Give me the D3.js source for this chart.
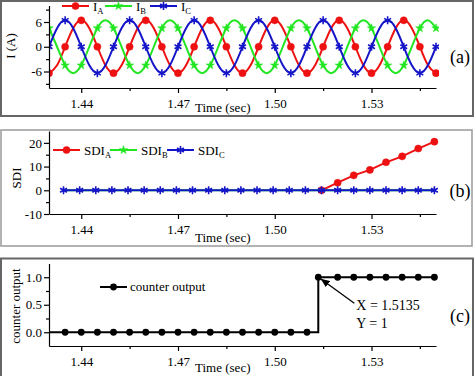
<!DOCTYPE html>
<html>
<head>
<meta charset="utf-8">
<script src="https://cdn.jsdelivr.net/npm/d3@7"></script>
<style>
  body { margin: 0; background: #fff; }
  svg { display: block; font-family: "Liberation Serif", "Times New Roman", serif; }
</style>
</head>
<body>
<div id="d3-container"></div>
<script>
/**
 * CONSTANTS AND DATA
 * */
const width = 474,
  height = 376;

// panel (a) : phase currents, read every 2.5 ms from 1.430 to 1.550 s
const currentTime = d3.range(49).map(i => 1.43 + i * 0.0025);
const iA = [
  -6.4, -4.5, 0, 4.5, 6.4, 4.5, 0, -4.5,
  -6.4, -4.5, 0, 4.5, 6.4, 4.5, 0, -4.5,
  -6.4, -4.5, 0, 4.5, 6.4, 4.5, 0, -4.5,
  -6.4, -4.5, 0, 4.5, 6.4, 4.5, 0, -4.5,
  -6.4, -4.5, 0, 4.5, 6.4, 4.5, 0, -4.5,
  -6.4, -4.5, 0, 4.5, 6.4, 4.5, 0, -4.5,
  -6.4];
const iB = [
  4.5, 0, -4.5, -6.4, -4.5, 0, 4.5, 6.4,
  4.5, 0, -4.5, -6.4, -4.5, 0, 4.5, 6.4,
  4.5, 0, -4.5, -6.4, -4.5, 0, 4.5, 6.4,
  4.5, 0, -4.5, -6.4, -4.5, 0, 4.5, 6.4,
  4.5, 0, -4.5, -6.4, -4.5, 0, 4.5, 6.4,
  4.5, 0, -4.5, -6.4, -4.5, 0, 4.5, 6.4,
  4.5];
const iC = [
  0, 4.5, 6.4, 4.5, 0, -4.5, -6.4, -4.5,
  0, 4.5, 6.4, 4.5, 0, -4.5, -6.4, -4.5,
  0, 4.5, 6.4, 4.5, 0, -4.5, -6.4, -4.5,
  0, 4.5, 6.4, 4.5, 0, -4.5, -6.4, -4.5,
  0, 4.5, 6.4, 4.5, 0, -4.5, -6.4, -4.5,
  0, 4.5, 6.4, 4.5, 0, -4.5, -6.4, -4.5,
  0];

// panel (b) : SDI
const sdiTime = [1.4345, 1.4395, 1.4445, 1.4495, 1.4545, 1.4595, 1.4645, 1.4695,
  1.4745, 1.4795, 1.4845, 1.4895, 1.4945, 1.4995, 1.5045, 1.5095,
  1.5145, 1.5195, 1.5245, 1.5295, 1.5345, 1.5395, 1.5445, 1.5495];
const sdiATime = [1.5145, 1.5195, 1.5245, 1.5295, 1.5345, 1.5395, 1.5445, 1.5495];
const sdiA = [0, 3.2, 6.3, 8.6, 11.8, 14.3, 17.6, 20.5];
const sdiB = [0, 0, 0, 0, 0, 0, 0, 0, 0, 0, 0, 0, 0, 0, 0, 0, 0, 0, 0, 0, 0, 0, 0, 0];
const sdiC = [0, 0, 0, 0, 0, 0, 0, 0, 0, 0, 0, 0, 0, 0, 0, 0, 0, 0, 0, 0, 0, 0, 0, 0];

// panel (c) : counter output
const counterTime = [1.435, 1.44, 1.445, 1.45, 1.455, 1.46, 1.465, 1.47,
  1.475, 1.48, 1.485, 1.49, 1.495, 1.5, 1.505, 1.51,
  1.5135, 1.5195, 1.5245, 1.5295, 1.5345, 1.5395, 1.5445, 1.5495];
const counterValue = [0, 0, 0, 0, 0, 0, 0, 0, 0, 0, 0, 0, 0, 0, 0, 0,
  1, 1, 1, 1, 1, 1, 1, 1];
const hit = { t: 1.5135, v: 1 };

// axis ticks
const xMajor = [1.44, 1.47, 1.50, 1.53];
const xMinor = [1.455, 1.485, 1.515, 1.545];

const RED = "#ee1111", GREEN = "#22e622", BLUE = "#1414c8";

/**
 * SCALES
 * */
const x = d3.scaleLinear().domain([1.43, 1.55]).range([49, 436]);
const yA = d3.scaleLinear().domain([-10, 10]).range([88, 5.5]);
const yB = d3.scaleLinear().domain([-10, 25]).range([214, 131]);
const yC = d3.scaleLinear().domain([-0.25, 1.25]).range([346, 263.5]);

const svg = d3.select("#d3-container")
  .append("svg")
  .attr("width", width)
  .attr("height", height);

svg.append("defs").append("marker")
  .attr("id", "head")
  .attr("viewBox", "0 0 10 10")
  .attr("refX", 9).attr("refY", 5)
  .attr("markerWidth", 7).attr("markerHeight", 7)
  .attr("orient", "auto")
  .append("path").attr("d", "M0,1 L10,5 L0,9 z").attr("fill", "#000");

// panel frames
svg.append("rect").attr("x", 1).attr("y", 1).attr("width", 472).attr("height", 115)
  .attr("fill", "none").attr("stroke", "#666").attr("stroke-width", 2);
svg.append("rect").attr("x", 1).attr("y", 130).attr("width", 471).attr("height", 116)
  .attr("fill", "none").attr("stroke", "#9a9a9a").attr("stroke-width", 1.5);
svg.append("rect").attr("x", 1).attr("y", 258.5).attr("width", 472).attr("height", 130)
  .attr("fill", "none").attr("stroke", "#666").attr("stroke-width", 2);

/**
 * HELPERS
 * */
function styleAxis(g) {
  g.attr("font-family", "Liberation Serif, serif").attr("font-size", 13);
  g.selectAll("path, line").attr("stroke", "#000").attr("stroke-width", 1.2);
  g.selectAll("text").attr("fill", "#000");
}

function drawAxes(y, yMajor, yMinor, yFmt) {
  const bottom = y.range()[0];
  svg.append("g").attr("transform", `translate(0,${bottom})`)
    .call(d3.axisBottom(x).tickValues(xMinor).tickSize(3).tickFormat(""))
    .call(g => g.select(".domain").remove())
    .call(styleAxis);
  svg.append("g").attr("transform", `translate(0,${bottom})`)
    .call(d3.axisBottom(x).tickValues(xMajor).tickSize(5).tickSizeOuter(0)
      .tickPadding(6).tickFormat(d3.format(".2f")))
    .call(styleAxis);
  svg.append("g").attr("transform", `translate(${x.range()[0]},0)`)
    .call(d3.axisLeft(y).tickValues(yMinor).tickSize(3).tickFormat(""))
    .call(g => g.select(".domain").remove())
    .call(styleAxis);
  svg.append("g").attr("transform", `translate(${x.range()[0]},0)`)
    .call(d3.axisLeft(y).tickValues(yMajor).tickSize(5).tickSizeOuter(0)
      .tickPadding(2).tickFormat(yFmt))
    .call(styleAxis);
}

function symbolPath(kind) {
  if (kind === "circle") return d3.symbol(d3.symbolCircle, 40)();
  if (kind === "star") return d3.symbol(d3.symbolStar, 22)();
  return d3.symbol(d3.symbolAsterisk, 44)();
}

function drawMarkers(g, pts, kind, color) {
  g.selectAll(null)
    .data(pts)
    .join("path")
    .attr("transform", d => `translate(${d[0]},${d[1]})`)
    .attr("d", symbolPath(kind))
    .attr("fill", kind === "asterisk" ? "none" : color)
    .attr("stroke", color)
    .attr("stroke-width", kind === "asterisk" ? 1.6 : 0.5);
}

function legendItem(x0, x1, y, color, kind, label, sub) {
  const g = svg.append("g");
  g.append("line").attr("x1", x0).attr("x2", x1).attr("y1", y).attr("y2", y)
    .attr("stroke", color).attr("stroke-width", 2);
  drawMarkers(g, [[(x0 + x1) / 2, y]], kind, color);
  const t = g.append("text").attr("x", x1 + 4).attr("y", y + 4.5)
    .attr("font-size", 13).attr("fill", "#000");
  t.append("tspan").text(label);
  if (sub) t.append("tspan").attr("dy", 3.5).attr("font-size", 8.5).text(sub);
}

function yTitle(cx, cy, label) {
  svg.append("text")
    .attr("transform", `translate(${cx},${cy}) rotate(-90)`)
    .attr("text-anchor", "middle")
    .attr("font-size", 13)
    .text(label);
}

function timeLabel(y) {
  svg.append("text").attr("x", 195).attr("y", y).attr("font-size", 13).text("Time (sec)");
}

function panelTag(y, label) {
  svg.append("text").attr("x", 460).attr("y", y).attr("text-anchor", "middle")
    .attr("font-size", 18).text(label);
}

/**
 * PANEL (a)
 * */
svg.append("clipPath").attr("id", "clipA")
  .append("rect").attr("x", 49).attr("y", 4).attr("width", 390).attr("height", 86);

const plotA = svg.append("g").attr("clip-path", "url(#clipA)");
const sineLine = d3.line().curve(d3.curveNatural);

[[iA, RED, "circle"], [iB, GREEN, "star"], [iC, BLUE, "asterisk"]].forEach(([vals, color]) => {
  const pts = currentTime.map((t, i) => [x(t), yA(vals[i])]);
  plotA.append("path").attr("d", sineLine(pts))
    .attr("fill", "none").attr("stroke", color).attr("stroke-width", 2);
});
[[iA, RED, "circle"], [iB, GREEN, "star"], [iC, BLUE, "asterisk"]].forEach(([vals, color, kind]) => {
  const pts = currentTime.map((t, i) => [x(t), yA(vals[i])]).filter((d, i) => i % 2 === 0);
  drawMarkers(plotA, pts, kind, color);
});

drawAxes(yA, [-6, 0, 6], [-9, -3, 3, 9], d => String(d));
yTitle(15, 46, "I (A)");
timeLabel(112);
panelTag(63, "(a)");
legendItem(62, 89, 6, RED, "circle", "I", "A");
legendItem(105, 132, 6, GREEN, "star", "I", "B");
legendItem(150, 177, 6, BLUE, "asterisk", "I", "C");

/**
 * PANEL (b)
 * */
const plotB = svg.append("g");
const straight = d3.line();

const ptsA = sdiATime.map((t, i) => [x(t), yB(sdiA[i])]);
const ptsB = sdiTime.map((t, i) => [x(t), yB(sdiB[i])]);
const ptsC = sdiTime.map((t, i) => [x(t), yB(sdiC[i])]);

plotB.append("path").attr("d", straight(ptsA)).attr("fill", "none")
  .attr("stroke", RED).attr("stroke-width", 2);
drawMarkers(plotB, ptsA, "circle", RED);
plotB.append("path").attr("d", straight(ptsB)).attr("fill", "none")
  .attr("stroke", GREEN).attr("stroke-width", 2);
plotB.append("path").attr("d", straight(ptsC)).attr("fill", "none")
  .attr("stroke", BLUE).attr("stroke-width", 2);
drawMarkers(plotB, ptsC, "asterisk", BLUE);

drawAxes(yB, [-10, 0, 10, 20], [-5, 5, 15], d => String(d));
yTitle(21, 178, "SDI");
timeLabel(242);
panelTag(197, "(b)");
legendItem(53, 80, 150, RED, "circle", "SDI", "A");
legendItem(110, 137, 150, GREEN, "star", "SDI", "B");
legendItem(167, 194, 150, BLUE, "asterisk", "SDI", "C");

/**
 * PANEL (c)
 * */
const plotC = svg.append("g");
const ptsCount = counterTime.map((t, i) => [x(t), yC(counterValue[i])]);
plotC.append("path")
  .attr("d", d3.line().curve(d3.curveStepAfter)([[x(1.43), yC(0)]].concat(ptsCount)))
  .attr("fill", "none").attr("stroke", "#000").attr("stroke-width", 2);
plotC.selectAll(null).data(ptsCount).join("circle")
  .attr("cx", d => d[0]).attr("cy", d => d[1]).attr("r", 3.4).attr("fill", "#000");

drawAxes(yC, [0, 0.5, 1.0], [0.25, 0.75], d3.format(".1f"));
yTitle(20, 306, "counter output");
timeLabel(372);
panelTag(322, "(c)");

const lg = svg.append("g");
lg.append("line").attr("x1", 100).attr("x2", 127).attr("y1", 287).attr("y2", 287)
  .attr("stroke", "#000").attr("stroke-width", 2);
lg.append("circle").attr("cx", 113.5).attr("cy", 287).attr("r", 3.4).attr("fill", "#000");
lg.append("text").attr("x", 130).attr("y", 291).attr("font-size", 13).text("counter output");

// annotation of the switching point
const hx = x(hit.t), hy = yC(hit.v);
svg.append("line")
  .attr("x1", hx + 36).attr("y1", hy + 26)
  .attr("x2", hx + 3).attr("y2", hy + 2)
  .attr("stroke", "#000").attr("stroke-width", 1.3)
  .attr("marker-end", "url(#head)");
svg.append("text").attr("x", hx + 38).attr("y", hy + 33).attr("font-size", 14)
  .text(`X = ${hit.t}`);
svg.append("text").attr("x", hx + 38).attr("y", hy + 51).attr("font-size", 14)
  .text(`Y = ${hit.v}`);
</script>
</body>
</html>
